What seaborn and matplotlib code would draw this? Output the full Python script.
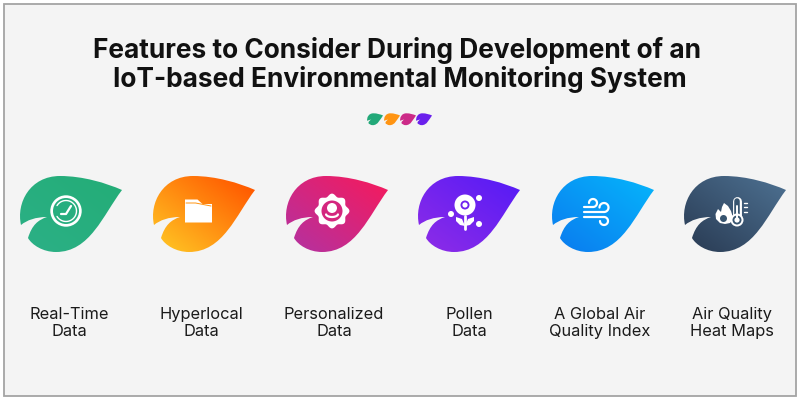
import numpy as np
import pandas as pd
import matplotlib
matplotlib.use("Agg")
import matplotlib.pyplot as plt
import seaborn as sns
from matplotlib.path import Path
from matplotlib.patches import PathPatch, Circle, Rectangle, Polygon

title_lines = ["Features to Consider During Development of an",
               "IoT-based Environmental Monitoring System"]
labels = ["Real-Time\nData", "Hyperlocal\nData", "Personalized\nData",
          "Pollen\nData", "A Global Air\nQuality Index", "Air Quality\nHeat Maps"]
leaf_left = [18, 151, 284, 416, 550, 682]
label_x = [69.5, 201, 334, 469, 600, 732]
# gradient ends, bottom-left to top-right
grad_start = ["#2bb085", "#ffc022", "#b8309c", "#8a2be8", "#0a7ff0", "#2c3f58"]
grad_end = ["#24ad78", "#ff5a00", "#f01c62", "#5a1cf5", "#06b0fa", "#4a6c8c"]
dot_x = [375, 392, 408, 424]
dot_colors = ["#22a878", "#ff9412", "#cc2a88", "#6a20ec"]

WHITE = "white"
BG = "#f4f4f4"

# leaf outline, coordinates relative to the left edge / top of the leaf
leaf_verts = [(3, 50),
              (-2, 28), (12, 1), (42, 1),
              (65, 1), (88, 8), (104, 15),
              (85, 40), (72, 77), (38, 77),
              (25, 77), (14, 70), (10, 63),
              (14, 50), (20, 45), (29, 42),
              (18, 42), (9, 45), (3, 50)]
leaf_codes = [Path.MOVETO] + [Path.CURVE4] * 18


def leaf_path(x0, y0, scale=1.0):
    v = np.array(leaf_verts, dtype=float) * scale + [x0, y0]
    return Path(v, leaf_codes)


def draw_leaf(ax, x0, y0, c0, c1):
    # diagonal gradient clipped to the leaf
    cmap = sns.blend_palette([c0, c1], as_cmap=True)
    xx, yy = np.meshgrid(np.linspace(0, 1, 120), np.linspace(1, 0, 90))
    grad = (xx + yy) / 2
    im = ax.imshow(grad, cmap=cmap, extent=(x0, x0 + 105, y0 + 78, y0), origin="upper",
                   aspect="auto", zorder=2, vmin=0.1, vmax=0.9)
    patch = PathPatch(leaf_path(x0, y0), transform=ax.transData, fc="none", ec="none")
    ax.add_patch(patch)
    im.set_clip_path(patch)


def clock_icon(ax, cx, cy):
    ax.add_patch(Circle((cx, cy), 15.7, fc=WHITE, ec="none", zorder=3))
    ax.add_patch(Circle((cx, cy), 13, fc="#27ae7f", ec="none", zorder=3))
    t = np.linspace(-2.6, 2.6, 40)
    ax.plot(cx + 10.5 * np.cos(t), cy + 10.5 * np.sin(t), color=WHITE, lw=1.0, zorder=4)
    ax.plot([cx - 5, cx, cx + 5], [cy + 3, cy + 3, cy - 5], color=WHITE, lw=1.6, zorder=4)


def folder_icon(ax, cx, cy):
    pts = [(-13.5, -4), (-13.5, -11.5), (-1, -11.5), (4, -7), (13.5, -7), (13.5, 11.5), (-13.5, 11.5)]
    ax.add_patch(Polygon([(cx + a, cy + b) for a, b in pts], fc=WHITE, ec="none", zorder=3))
    ax.plot([cx - 12.5, cx - 3, cx + 12.5], [cy - 8, cy - 8, cy - 5], color="#ff9412", lw=0.7, zorder=4)


def gear_icon(ax, cx, cy):
    t = np.linspace(0, 2 * np.pi, 160)
    r = 16 + 1.4 * np.cos(8 * t)
    ax.add_patch(Polygon(np.c_[cx + r * np.cos(t), cy + r * np.sin(t)], fc=WHITE, ec="none", zorder=3))
    ax.add_patch(Circle((cx, cy), 10.5, fc="#d4267e", ec="none", zorder=3))
    ax.add_patch(Circle((cx, cy - 3), 5, fc=WHITE, ec="none", zorder=4))
    t2 = np.linspace(0.15, np.pi - 0.15, 30)
    ax.plot(cx + 6 * np.cos(t2), cy + 3 + 3 * np.sin(t2), color=WHITE, lw=1.6, zorder=4)


def flower_icon(ax, cx, cy):
    ax.add_patch(Circle((cx, cy - 6), 10.5, fc=WHITE, ec="none", zorder=3))
    ax.add_patch(Circle((cx, cy - 6), 4.5, fc="#6f22ee", ec="none", zorder=3))
    ax.add_patch(Circle((cx, cy - 6), 2.6, fc=WHITE, ec="none", zorder=4))
    for dx, dy in [(14, -13), (-14, 3), (14, 13)]:
        ax.add_patch(Circle((cx + dx, cy + dy), 3, fc=WHITE, ec="none", zorder=3))
    ax.plot([cx, cx], [cy + 5, cy + 18], color=WHITE, lw=2, zorder=3)
    ax.add_patch(Polygon([(cx, cy + 15), (cx - 5, cy + 14), (cx - 9, cy + 10), (cx - 9, cy + 6), (cx - 3, cy + 8)],
                         fc=WHITE, ec="none", zorder=3))
    ax.add_patch(Polygon([(cx, cy + 15), (cx + 5, cy + 14), (cx + 9, cy + 10), (cx + 9, cy + 6), (cx + 3, cy + 8)],
                         fc=WHITE, ec="none", zorder=3))


def wind_icon(ax, cx, cy):
    for yy, x1 in [(-4, cx - 4), (1, cx + 7), (6, cx + 7)]:
        ax.plot([cx - 13, x1], [cy + yy, cy + yy], color=WHITE, lw=1.6, zorder=3)
    for (ax0, ay0, r, a0, a1) in [(cx - 4, cy - 8, 4, np.pi / 2, -np.pi),
                                  (cx + 7, cy - 3.5, 4.5, np.pi / 2, -np.pi),
                                  (cx + 7, cy + 10, 4, -np.pi / 2, np.pi)]:
        t = np.linspace(a0, a1, 30)
        ax.plot(ax0 + r * np.cos(t), ay0 + r * np.sin(t), color=WHITE, lw=1.6, zorder=3)


def heat_icon(ax, cx, cy):
    dark = "#37546f"
    # thermometer
    ax.plot([cx + 6, cx + 6], [cy - 10, cy + 6], color=WHITE, lw=6.4, solid_capstyle="round", zorder=3)
    ax.plot([cx + 6, cx + 6], [cy - 10, cy + 6], color=dark, lw=4, solid_capstyle="round", zorder=3)
    ax.add_patch(Circle((cx + 6, cy + 9), 6.5, fc=WHITE, ec="none", zorder=4))
    ax.add_patch(Circle((cx + 6, cy + 9), 4.5, fc=dark, ec="none", zorder=4))
    ax.add_patch(Circle((cx + 6, cy + 9), 2.6, fc=WHITE, ec="none", zorder=4))
    ax.plot([cx + 6, cx + 6], [cy - 5, cy + 8], color=WHITE, lw=1.4, zorder=4)
    for dy in [-8, -4, 1]:
        ax.plot([cx + 13, cx + 16], [cy + dy] * 2, color=WHITE, lw=1, zorder=3)
    # flame
    pts = [(-7, -8), (-3, -5), (0, 0), (1.5, 5), (1.5, 9), (-1, 12), (-6, 13), (-11, 12),
           (-15, 8), (-15.5, 3), (-13, -2), (-10, 1), (-9, -4)]
    ax.add_patch(Polygon([(cx + a, cy + b) for a, b in pts], fc=WHITE, ec="none", zorder=3))
    ax.add_patch(Circle((cx - 7.5, cy + 7.5), 3.5, fc=dark, ec="none", zorder=4))


sns.set_theme(style="white")
plt.rcParams["font.family"] = ["Inter", "DejaVu Sans"]

fig = plt.figure(figsize=(8, 4), dpi=100, facecolor=WHITE)
ax = fig.add_axes([0, 0, 1, 1])

ax.add_patch(Rectangle((4, 3.5), 791.5, 392, fc=BG, ec="#a4a4a4", lw=1.3, zorder=0))

ax.text(397, 50.5, title_lines[0], ha="center", va="center", fontsize=18.9, fontweight="bold", color="#111111")
ax.text(400, 79.5, title_lines[1], ha="center", va="center", fontsize=18.9, fontweight="bold", color="#111111")

# small leaves under the title
small = leaf_path(0, 0, 1 / 7.5).vertices - [7, 5]
small_marker = Path(small * [1, -1], leaf_codes)
dots = pd.DataFrame({"x": dot_x, "y": [119] * 4, "c": dot_colors})
sns.scatterplot(data=dots, x="x", y="y", hue="c", palette=dot_colors, marker=small_marker,
                s=150, linewidth=0, legend=False, ax=ax, zorder=3)

icons = [clock_icon, folder_icon, gear_icon, flower_icon, wind_icon, heat_icon]
icon_x = [66, 198.5, 332, 465, 597, 731]
for x0, c0, c1, draw_icon, ix, lx, lab in zip(leaf_left, grad_start, grad_end, icons, icon_x, label_x, labels):
    draw_leaf(ax, x0, 175, c0, c1)
    draw_icon(ax, ix, 211)
    ax.text(lx, 323, lab, ha="center", va="center", fontsize=11.8, color="#1a1a1a", linespacing=1.2)

ax.set_xlim(0, 800)
ax.set_ylim(400, 0)
ax.axis("off")
fig.savefig("out.png", dpi=100, facecolor=WHITE)
